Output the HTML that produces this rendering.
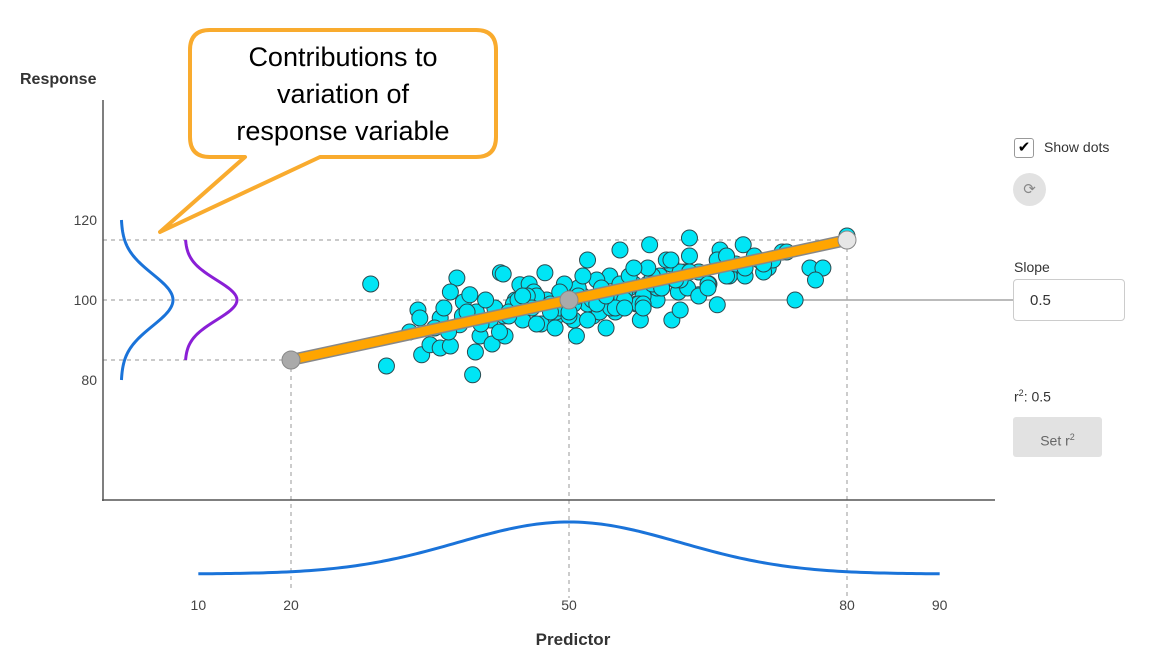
<!DOCTYPE html>
<html><head><meta charset="utf-8"><style>
body{margin:0;background:#fff;font-family:"Liberation Sans",sans-serif;}
#wrap{position:relative;width:1150px;height:666px;overflow:hidden;}
.ctl{position:absolute;font-size:14px;color:#333;}
</style></head><body>
<div id="wrap">
<svg id="chart" width="1150" height="666" style="position:absolute;left:0;top:0"></svg>
<div class="ctl" style="left:1014px;top:138px;width:18px;height:18px;border:1px solid #999;border-radius:3px;text-align:center;line-height:18px;font-size:15px;color:#000">✔</div>
<div class="ctl" style="left:1044px;top:139px">Show dots</div>
<div class="ctl" style="left:1013px;top:173px;width:33px;height:33px;border-radius:50%;background:#e2e2e2;text-align:center;line-height:33px;color:#888;font-size:15px">⟳</div>
<div class="ctl" style="left:1014px;top:259px">Slope</div>
<div class="ctl" style="left:1013px;top:279px;width:112px;height:42px;border:1px solid #ccc;border-radius:4px;box-sizing:border-box;padding:12px 0 0 16px;font-size:15px">0.5</div>
<div class="ctl" style="left:1014px;top:388px">r<sup style="font-size:9px">2</sup>: 0.5</div>
<div class="ctl" style="left:1013px;top:417px;width:89px;height:40px;background:#e2e2e2;border-radius:3px;text-align:center;line-height:40px;color:#666">Set r<sup style="font-size:9px">2</sup></div>
</div>
<script>
const xs=[28.6,30.3,39.6,33.7,33.9,32.8,34.1,35,36.1,37.2,37.9,37.2,38.6,39.3,39.9,40.4,41.7,43.1,42.6,42.9,44.7,47.4,44.2,46.3,48.5,50.8,41.5,38.2,36.1,40,43,44,45.7,46.2,47.6,48.6,49.7,50.5,51.5,52.6,55.5,58.7,63,66.3,68.8,74.4,76,77.4,76.6,80,64,66,61.1,62,57.7,53.3,54.4,56.5,59.8,64,68.3,71.5,70.5,67.3,65.1,61.8,58.5,55.2,57.3,59.5,62.8,35.5,37,38.5,40.5,42,43.5,45,46.5,48,49,50,51,52,53,54,55,56,57,58,59,60,61,62,63,64,65,66,67,68,69,70,71,72,73,45.5,47,48.5,49.5,50.5,51.5,52.5,53.5,54.5,55.5,56.5,57.5,58.5,59.5,60.5,61.5,62.5,41,43.5,46,48,50,52,54,56,58,60,62,64,66,36.5,39,42.5,44.5,46.5,49,51,53,55,57,59,61,63,65,67,69,71,73.5,52,56,60,45,54,58];
const ys=[104,83.5,81.3,97.5,95.5,92,86.3,88.8,88,88.5,105.5,102,99.5,101.3,87,91,89,91,106.8,106.5,103.8,106.8,100,98.8,95.5,91,95,93.8,95.5,97,96,99,104,102,100,97,102,95,101,96,112.5,113.8,115.5,112.5,113.8,100,108,108,105,116,101.3,98.8,95,97.5,95,97,106,103,106,107,108,108,110,106,104,102,104,100,99,100,103,93,92,96,94,98,97,95,101,99,98,96,103,99,105,100,97,102,104,101,106,103,109,105,111,107,104,110,106,109,106,111,107,110,112,101,94,93,104,99,106,100,103,98,104,106,99,108,103,110,105,107,100,96,98,97,97,95,93,100,99,104,107,101,110,98,97,92,100,94,102,101,99,98,108,104,110,107,103,111,108,109,112,110,98,103,101,101,98,109];
const pts=[20,50,80], lineY=[85,100,115];
const xT=[10,20,50,80,90], yT=[80,100,120];
const NS='http://www.w3.org/2000/svg';
const svg=document.getElementById('chart');
const X=v=>291+(v-20)*278/30, Y=v=>300-(v-100)*4;
function mk(t,a,p){const e=document.createElementNS(NS,t);for(const k in a)e.setAttribute(k,a[k]);(p||svg).appendChild(e);return e;}
function line(x1,y1,x2,y2,s,w,d){return mk('line',{x1,y1,x2,y2,stroke:s,'stroke-width':w||1,'stroke-dasharray':d||''});}
let e;
// grid
e=line(103,Y(115),X(80),Y(115),'#aaa',1.2,'4,4');
e=line(103,Y(100),X(50),Y(100),'#aaa',1.2,'4,4');
e=line(X(50),Y(100),1013,Y(100),'#bbb',2);
e=line(103,Y(85),X(20),Y(85),'#aaa',1.2,'4,4');
e=line(X(20),Y(85),X(20),590,'#aaa',1.2,'4,4');
e=line(X(50),Y(100),X(50),598,'#aaa',1.2,'4,4');
e=line(X(80),Y(115),X(80),598,'#aaa',1.2,'4,4');
// axes
e=line(103,100,103,501,'#555',1.5);
e=line(102,500,995,500,'#555',1.5);
xT.forEach(v=>{const t=mk('text',{x:X(v),y:610,'text-anchor':'middle','font-size':14,fill:'#444'});t.textContent=v;

});
yT.forEach(v=>{const t=mk('text',{x:97,y:Y(v)+5,'text-anchor':'end','font-size':14,fill:'#444'});t.textContent=v;

});
e=mk('text',{x:20,y:84,'font-size':16,'font-weight':'bold',fill:'#333'});e.textContent='Response';

e=mk('text',{x:573,y:645,'text-anchor':'middle','font-size':17,'font-weight':'bold',fill:'#333'});e.textContent='Predictor';

// density curves
function gauss(z){return Math.exp(-z*z/2);}
let d='';for(let v=10;v<=90;v+=0.5){d+=(v==10?'M':'L')+X(v)+','+(574-52*gauss((v-50)/12));}
e=mk('path',{d,fill:'none',stroke:'#1a73d9','stroke-width':3});
d='';for(let v=80;v<=120;v+=0.5){d+=(v==80?'M':'L')+(121+52*gauss((v-100)/6.5))+','+Y(v);}
e=mk('path',{d,fill:'none',stroke:'#1a73d9','stroke-width':3});
d='';for(let v=85;v<=115;v+=0.5){d+=(v==85?'M':'L')+(185+52*gauss((v-100)/5))+','+Y(v);}
e=mk('path',{d,fill:'none',stroke:'#8a1fd6','stroke-width':3});
// dots
xs.forEach((v,i)=>{const c=mk('circle',{cx:X(v),cy:Y(ys[i]),r:8,fill:'#00e5f5',stroke:'#2a4a50','stroke-width':1});

});
// regression line
e=line(X(pts[0]),Y(lineY[0]),X(pts[2]),Y(lineY[2]),'#888',12);
e=line(X(pts[0]),Y(lineY[0]),X(pts[2]),Y(lineY[2]),'#ffa500',9);
const hc=['#aaa','#aaa','#e6e6e6'];
pts.forEach((v,i)=>{const c=mk('circle',{cx:X(v),cy:Y(lineY[i]),r:9,fill:hc[i],stroke:'#888','stroke-width':1});

});
// callout
e=mk('path',{d:'M210,30 H476 Q496,30 496,50 V137 Q496,157 476,157 H320 L160,232 L245,157 H210 Q190,157 190,137 V50 Q190,30 210,30 Z',fill:'#fff',stroke:'#f9ab2e','stroke-width':4,'stroke-linejoin':'round'});

['Contributions to','variation of','response variable'].forEach((s,i)=>{const t=mk('text',{x:343,y:66+i*37,'text-anchor':'middle','font-size':27,fill:'#000'});t.textContent=s;

});
</script>
</body></html>
